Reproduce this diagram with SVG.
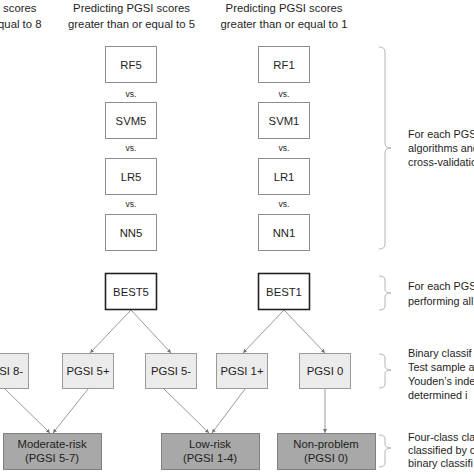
<svg xmlns="http://www.w3.org/2000/svg" width="474" height="474" viewBox="0 0 474 474">
<defs>
<marker id="ah" viewBox="0 0 6 6" refX="6" refY="3" markerWidth="4" markerHeight="4" orient="auto"><path d="M0,0 L6,3 L0,6 z" fill="#777"/></marker>
<style>
text{font-family:"Liberation Sans",Arial,sans-serif;fill:#1e1e1e;text-anchor:middle}
.hd{font-size:11.3px}
.lb{font-size:11.3px}
.vs{font-size:8.5px}
.nt{font-size:10.8px;text-anchor:start}
.m{fill:#fff;stroke:#8c8c8c;stroke-width:1}
.b{fill:#fff;stroke:#222;stroke-width:1.6}
.p{fill:#ebebeb;stroke:#9a9a9a;stroke-width:1}
.f{fill:#a8a8a8;stroke:#808080;stroke-width:1}
.c{stroke:#9a9a9a;stroke-width:1;fill:none}
.br{stroke:#b5b5b5;stroke-width:1;fill:none}
</style>
</defs>
<rect width="474" height="474" fill="#fff"/>
<g id="headers">
<text class="hd" x="-22" y="12">Predicting  PGSI scores</text>
<text class="hd" x="-22" y="28">greater than or equal to 8</text>
<text class="hd" x="131.5" y="12">Predicting  PGSI scores</text>
<text class="hd" x="131.5" y="28">greater than or equal to 5</text>
<text class="hd" x="284" y="12">Predicting  PGSI scores</text>
<text class="hd" x="284" y="28">greater than or equal to 1</text>
</g>
<g id="connectors">
<line class="c" x1="131" y1="310" x2="90" y2="353" marker-end="url(#ah)"/>
<line class="c" x1="131" y1="310" x2="171" y2="353" marker-end="url(#ah)"/>
<line class="c" x1="284" y1="310" x2="243" y2="353" marker-end="url(#ah)"/>
<line class="c" x1="284" y1="310" x2="325" y2="353" marker-end="url(#ah)"/>
<line class="c" x1="5" y1="389" x2="50" y2="433" marker-end="url(#ah)"/>
<line class="c" x1="88" y1="389" x2="53" y2="433" marker-end="url(#ah)"/>
<line class="c" x1="164" y1="389" x2="209" y2="433" marker-end="url(#ah)"/>
<line class="c" x1="245" y1="389" x2="212" y2="433" marker-end="url(#ah)"/>
<line class="c" x1="325" y1="389" x2="325" y2="433" marker-end="url(#ah)"/>
</g>
<g id="RF5"><rect class="m" x="105.5" y="46.5" width="51" height="36"/><text class="lb" x="131" y="68.5">RF5</text></g>
<text class="vs" x="131" y="97">vs.</text>
<g id="SVM5"><rect class="m" x="105.5" y="102.5" width="51" height="36"/><text class="lb" x="131" y="124.5">SVM5</text></g>
<text class="vs" x="131" y="151">vs.</text>
<g id="LR5"><rect class="m" x="105.5" y="158.5" width="51" height="36"/><text class="lb" x="131" y="180.5">LR5</text></g>
<text class="vs" x="131" y="207">vs.</text>
<g id="NN5"><rect class="m" x="105.5" y="214.5" width="51" height="36"/><text class="lb" x="131" y="236.5">NN5</text></g>
<g id="RF1"><rect class="m" x="258.5" y="46.5" width="51" height="36"/><text class="lb" x="284" y="68.5">RF1</text></g>
<text class="vs" x="284" y="97">vs.</text>
<g id="SVM1"><rect class="m" x="258.5" y="102.5" width="51" height="36"/><text class="lb" x="284" y="124.5">SVM1</text></g>
<text class="vs" x="284" y="151">vs.</text>
<g id="LR1"><rect class="m" x="258.5" y="158.5" width="51" height="36"/><text class="lb" x="284" y="180.5">LR1</text></g>
<text class="vs" x="284" y="207">vs.</text>
<g id="NN1"><rect class="m" x="258.5" y="214.5" width="51" height="36"/><text class="lb" x="284" y="236.5">NN1</text></g>
<g id="BEST5"><rect class="b" x="105.5" y="273.5" width="51" height="36"/><text class="lb" x="131" y="295.5">BEST5</text></g>
<g id="BEST1"><rect class="b" x="258.5" y="273.5" width="51" height="36"/><text class="lb" x="284" y="295.5">BEST1</text></g>
<g id="PGSI8minus"><rect class="p" x="-22.5" y="353.5" width="51" height="35"/><text class="lb" x="3" y="375">PGSI 8-</text></g>
<g id="PGSI5plus"><rect class="p" x="62.5" y="353.5" width="51" height="35"/><text class="lb" x="88" y="375">PGSI 5+</text></g>
<g id="PGSI5minus"><rect class="p" x="145.5" y="353.5" width="51" height="35"/><text class="lb" x="171" y="375">PGSI 5-</text></g>
<g id="PGSI1plus"><rect class="p" x="216.5" y="353.5" width="51" height="35"/><text class="lb" x="242" y="375">PGSI 1+</text></g>
<g id="PGSI0"><rect class="p" x="299.5" y="353.5" width="51" height="35"/><text class="lb" x="325" y="375">PGSI 0</text></g>
<g id="moderate"><rect class="f" x="3.5" y="433.5" width="98" height="36"/><text class="lb" x="52" y="448">Moderate-risk</text><text class="lb" x="52" y="462">(PGSI 5-7)</text></g>
<g id="lowrisk"><rect class="f" x="161.5" y="433.5" width="98" height="36"/><text class="lb" x="210" y="448">Low-risk</text><text class="lb" x="210" y="462">(PGSI 1-4)</text></g>
<g id="nonproblem"><rect class="f" x="277.5" y="433.5" width="98" height="36"/><text class="lb" x="326" y="448">Non-problem</text><text class="lb" x="326" y="462">(PGSI 0)</text></g>
<g id="brackets">
<path class="br" d="M379,47 Q385,47 385,52 L385,143 Q385,148 391,148 Q385,148 385,153 L385,244 Q385,249 379,249"/>
<path class="br" d="M379,276 Q385,276 385,280 L385,289 Q385,293 391,293 Q385,293 385,297 L385,306 Q385,310 379,310"/>
<path class="br" d="M379,354 Q385,354 385,358 L385,366 Q385,370 391,370 Q385,370 385,374 L385,384 Q385,388 379,388"/>
<path class="br" d="M379,435 Q385,435 385,439 L385,444 Q385,448 391,448 Q385,448 385,452 L385,463 Q385,467 379,467"/>
</g>
<g id="notes">
<text class="nt" x="408" y="138">For each PGSI</text>
<text class="nt" x="408" y="152">algorithms and</text>
<text class="nt" x="408" y="166">cross-validation</text>
<text class="nt" x="408" y="290">For each PGSI</text>
<text class="nt" x="408" y="305">performing all</text>
<text class="nt" x="408" y="357">Binary classif</text>
<text class="nt" x="408" y="371">Test sample a</text>
<text class="nt" x="408" y="385">Youden’s inde</text>
<text class="nt" x="408" y="399">determined i</text>
<text class="nt" x="408" y="441">Four-class cla</text>
<text class="nt" x="408" y="454">classified by c</text>
<text class="nt" x="408" y="467">binary classifi</text>
</g>
</svg>
